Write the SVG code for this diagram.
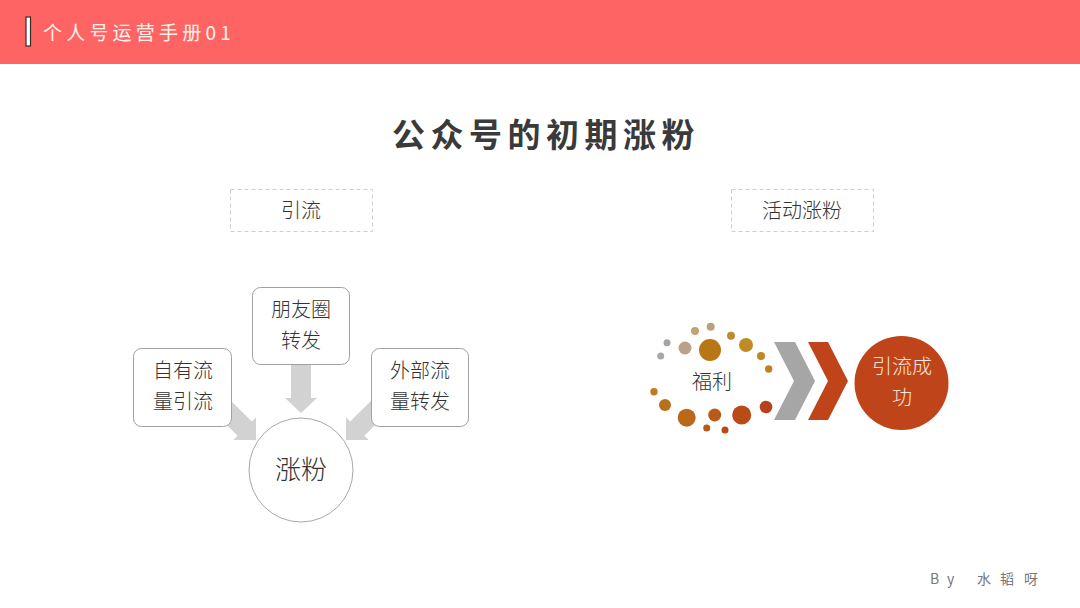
<svg xmlns="http://www.w3.org/2000/svg" width="1080" height="608" viewBox="0 0 1080 608">
<style>
.cjk{font-family:"Noto Sans CJK SC","Liberation Sans",sans-serif}
.box{fill:#fff;stroke:#a0a0a0;stroke-width:1}
.dash{fill:#fff;stroke:#cfcfcf;stroke-width:1;stroke-dasharray:4 3}
.t{font-size:20px;fill:#333;text-anchor:middle;font-weight:300}
.arr{fill:#d2d2d2}
</style>
<rect width="1080" height="608" fill="#fff"/>
<g id="header">
<rect x="0" y="0" width="1080" height="64" fill="#ff6464"/>
<rect x="26" y="17" width="4.5" height="29" fill="#fff" stroke="#3a2a2a" stroke-width="1.2"/>
<text x="43" y="40" class="cjk" font-size="19" letter-spacing="4.2" fill="#fff3ec">个人号运营手册01</text>
</g>
<text x="546" y="147" class="cjk" font-size="33" font-weight="bold" letter-spacing="5.5" fill="#3a3a3a" text-anchor="middle">公众号的初期涨粉</text>
<g id="label-yinliu">
<rect x="230.5" y="189.5" width="142" height="42" class="dash"/>
<text x="301" y="218" class="cjk t">引流</text>
</g>
<g id="label-huodong">
<rect x="731.5" y="189.5" width="142" height="42" class="dash"/>
<text x="802" y="218" class="cjk t">活动涨粉</text>
</g>
<g id="connectors">
<polygon class="arr" points="291,360 311,360 311,398 317,398 301,413 285,398 291,398"/>
<polygon class="arr" points="222.1,391.9 251.8,421.6 256,417.4 256,440 233.4,440 237.6,435.8 207.9,406.1"/>
<polygon class="arr" points="379.9,391.9 350.2,421.6 346,417.4 346,440 368.6,440 364.4,435.8 394.1,406.1"/>
</g>
<g id="node-pengyouquan">
<rect x="252.5" y="287.5" width="97" height="77" rx="8" class="box"/>
<text x="301" y="317" class="cjk t">朋友圈</text>
<text x="301" y="348" class="cjk t">转发</text>
</g>
<g id="node-ziyou">
<rect x="133.5" y="348.5" width="98" height="78" rx="8" class="box"/>
<text x="183" y="378" class="cjk t">自有流</text>
<text x="183" y="409" class="cjk t">量引流</text>
</g>
<g id="node-waibu">
<rect x="371.5" y="348.5" width="97" height="78" rx="8" class="box"/>
<text x="420" y="378" class="cjk t">外部流</text>
<text x="420" y="409" class="cjk t">量转发</text>
</g>
<g id="node-zhangfen">
<circle cx="301" cy="470" r="52" fill="#fff" stroke="#a8a8a8" stroke-width="1"/>
<text x="301" y="479" class="cjk" font-size="26" font-weight="300" fill="#333" text-anchor="middle">涨粉</text>
</g>
<g id="node-fuli">
<circle cx="710.7" cy="326.7" r="4" fill="#b9a17c"/>
<circle cx="695" cy="331" r="4" fill="#c5a272"/>
<circle cx="731" cy="335.7" r="4" fill="#c08a30"/>
<circle cx="667" cy="342.7" r="3.5" fill="#a9a2a2"/>
<circle cx="685" cy="348" r="6.5" fill="#b9a289"/>
<circle cx="710" cy="350" r="11" fill="#b97614"/>
<circle cx="746" cy="345" r="7" fill="#c08a25"/>
<circle cx="660.7" cy="356" r="3.5" fill="#aba6a8"/>
<circle cx="761" cy="356" r="4" fill="#c08820"/>
<circle cx="768.7" cy="369" r="3.7" fill="#c08020"/>
<circle cx="654" cy="391.7" r="3.7" fill="#c07a20"/>
<circle cx="665" cy="405" r="6" fill="#b9701a"/>
<circle cx="686.7" cy="417.7" r="9" fill="#b96a18"/>
<circle cx="714.7" cy="415" r="6.5" fill="#b85a18"/>
<circle cx="741.7" cy="415" r="9.5" fill="#b84b16"/>
<circle cx="766" cy="407" r="6.3" fill="#b8401a"/>
<circle cx="706.7" cy="428" r="3.5" fill="#b85a18"/>
<circle cx="725" cy="430" r="3.5" fill="#b84a18"/>
<text x="712" y="389" class="cjk t">福利</text>
</g>
<g id="chevrons">
<polygon points="774,342 795,342 815,381 795,420 774,420 794,381" fill="#a6a6a6"/>
<polygon points="808,342 828,342 848,381 828,420 808,420 828,381" fill="#c0441a"/>
</g>
<g id="node-success">
<circle cx="901.5" cy="383" r="47" fill="#c0441a"/>
<text x="902" y="374" class="cjk" font-size="20" font-weight="300" fill="#f7e6dc" text-anchor="middle">引流成</text>
<text x="902" y="405" class="cjk" font-size="20" font-weight="300" fill="#f7e6dc" text-anchor="middle">功</text>
</g>
<text y="584" class="cjk" font-size="14" fill="#777"><tspan x="930">B</tspan><tspan x="947">y</tspan><tspan x="977">水</tspan><tspan x="1000">韬</tspan><tspan x="1024">呀</tspan></text>
</svg>
